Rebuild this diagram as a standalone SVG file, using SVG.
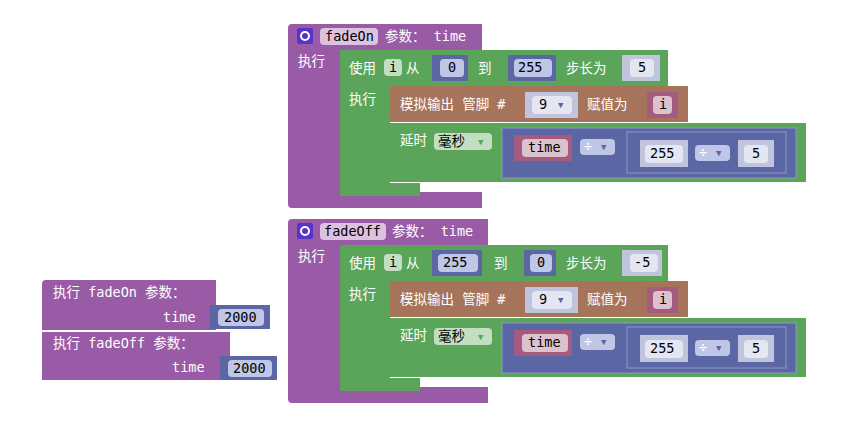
<svg xmlns="http://www.w3.org/2000/svg" width="866" height="445" viewBox="0 0 866 445">
<style>
text{font-family:"DejaVu Sans Mono","Noto Sans CJK SC",monospace;font-size:13.5px;fill:#fff}
.k{fill:#000}
.pu{fill:#995ba5}.gr{fill:#5ba55b}.br{fill:#a5745b}.bl{fill:#5b67a5}.lv{fill:#c0c4dd}.pk{fill:#a55b80}
.pill{fill:#e4e6f2}.pp{fill:#dcc2df}.pg{fill:#c2dfc2}.ppk{fill:#dcc2cf}.pb{fill:#c0c6e6}
</style>
<rect width="866" height="445" fill="#fff"/>
<defs>
<g id="fn">
<rect x="297" y="28" width="16" height="16" rx="2" fill="#5533cc"/>
<circle cx="305" cy="36" r="4" fill="none" stroke="#fff" stroke-width="2"/>
<path class="gr" d="M340,50 h328 v36 h-278 v97 h30 v13 h-80z"/>
<text x="349" y="73">使用</text>
<rect class="pg" x="384" y="59" width="18" height="17" rx="4"/><text class="k" x="389" y="72">i</text>
<text x="406" y="73">从</text>
<text x="566" y="73">步长为</text>
<text x="349" y="104">执行</text>
<path class="br" d="M390,86 h298 v36 h-298z"/>
<text x="400" y="109">模拟输出 管脚 #</text>
<rect class="lv" x="525" y="92" width="53" height="26"/><rect class="pill" x="532" y="96" width="40" height="18" rx="4"/>
<text class="k" x="539" y="109">9</text><text x="558" y="108" style="fill:#5b67a5;font-size:9px">▼</text>
<text x="587" y="109">赋值为</text>
<rect class="pk" x="647" y="92" width="31" height="26"/><rect class="ppk" x="653" y="96" width="19" height="18" rx="4"/>
<text class="k" x="659" y="109">i</text>
<path class="gr" d="M390,123 h416 v59 h-416z"/>
<text x="400" y="145">延时</text>
<rect class="pg" x="434" y="133" width="58" height="17" rx="4"/><text class="k" x="438" y="146">毫秒</text><text x="478" y="145" style="fill:#5ba55b;font-size:9px">▼</text>
<rect class="bl" x="502" y="128" width="294" height="50" stroke="#8f97c4"/>
<rect class="pk" x="514" y="135" width="58" height="26"/><rect class="ppk" x="522" y="139" width="46" height="18" rx="4"/>
<text class="k" x="528" y="152">time</text>
<rect class="pb" x="580" y="139" width="35" height="16" rx="4"/><text x="584" y="151">÷</text><text x="601" y="150" style="fill:#5b67a5;font-size:9px">▼</text>
<rect class="bl" x="627" y="132" width="159" height="41" stroke="#8f97c4"/>
<rect class="lv" x="640" y="140" width="48" height="27"/><rect class="pill" x="645" y="145" width="38" height="18" rx="4"/>
<text class="k" x="650" y="158">255</text>
<rect class="pb" x="695" y="145" width="35" height="16" rx="4"/><text x="699" y="157">÷</text><text x="716" y="156" style="fill:#5b67a5;font-size:9px">▼</text>
<rect class="lv" x="738" y="140" width="36" height="27"/><rect class="pill" x="744" y="145" width="24" height="18" rx="4"/>
<text class="k" x="752" y="158">5</text>
</g>
</defs>
<g id="fadeOn">
<path class="pu" d="M288,28 q0,-4 4,-4 h190 v26 h-142 v142 h142 v16 h-190 q-4,0 -4,-4z"/>
<use href="#fn"/>
<rect class="pp" x="320" y="28" width="58" height="17" rx="4"/><text class="k" x="325" y="41">fadeOn</text>
<text x="385" y="41">参数： time</text>
<text x="298" y="66">执行</text>
<text x="478" y="73">到</text>
<rect class="bl" x="432" y="55" width="36" height="26"/><rect class="pb" x="440" y="59" width="24" height="18" rx="4"/><text class="k" x="448" y="72">0</text>
<rect class="bl" x="508" y="55" width="48" height="26"/><rect class="pb" x="514" y="59" width="38" height="18" rx="4"/><text class="k" x="518" y="72">255</text>
<rect class="lv" x="622" y="55" width="38" height="26"/><rect class="pill" x="630" y="59" width="24" height="18" rx="4"/><text class="k" x="638" y="72">5</text>
</g>
<g id="fadeOff" transform="translate(0,195)">
<path class="pu" d="M288,28 q0,-4 4,-4 h196 v26 h-148 v142 h148 v16 h-196 q-4,0 -4,-4z"/>
<use href="#fn"/>
<rect class="pp" x="320" y="28" width="66" height="17" rx="4"/><text class="k" x="324" y="41">fadeOff</text>
<text x="392" y="41">参数： time</text>
<text x="298" y="66">执行</text>
<text x="494" y="73">到</text>
<rect class="bl" x="432" y="55" width="50" height="26"/><rect class="pb" x="438" y="59" width="40" height="18" rx="4"/><text class="k" x="443" y="72">255</text>
<rect class="bl" x="524" y="55" width="32" height="26"/><rect class="pb" x="530" y="59" width="22" height="18" rx="4"/><text class="k" x="537" y="72">0</text>
<rect class="lv" x="622" y="55" width="40" height="26"/><rect class="pill" x="630" y="59" width="28" height="18" rx="4"/><text class="k" x="634" y="72">-5</text>
</g>
<g id="callOn">
<path class="pu" d="M42,284 q0,-4 4,-4 h170 v50 h-174z"/>
<text x="53" y="297">执行 fadeOn 参数：</text>
<text x="163" y="322">time</text>
<rect class="bl" x="210" y="305" width="60" height="24"/><rect class="pb" x="218" y="309" width="46" height="17" rx="4"/><text class="k" x="224" y="322">2000</text>
</g>
<g id="callOff">
<path class="pu" d="M42,332 h188 v48 h-188z"/>
<text x="53" y="348">执行 fadeOff 参数：</text>
<text x="172" y="372">time</text>
<rect class="bl" x="220" y="356" width="57" height="24"/><rect class="pb" x="228" y="360" width="44" height="17" rx="4"/><text class="k" x="233" y="373">2000</text>
</g>
<g id="connectors"/>
</svg>
